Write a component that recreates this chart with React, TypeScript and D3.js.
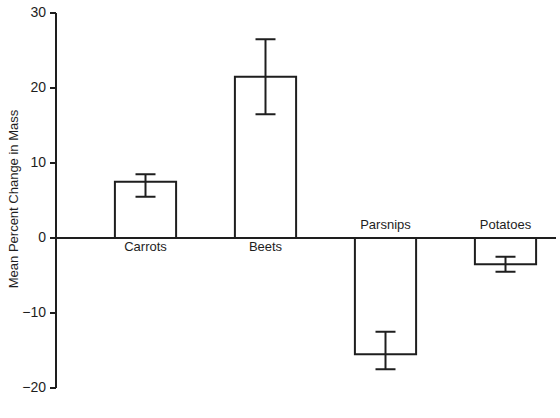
import React from "react";
import * as d3 from "d3";

const categories = ["Carrots", "Beets", "Parsnips", "Potatoes"];
const means = [7.5, 21.5, -15.5, -3.5];
const errLow = [5.5, 16.5, -17.5, -4.5];
const errHigh = [8.5, 26.5, -12.5, -2.5];
const yTicks = [-20, -10, 0, 10, 20, 30];
const yLabel = "Mean Percent Change in Mass";

const W = 560;
const H = 418;
const axisX = 56;
const ink = "#1e1e1e";
const font = "'Liberation Sans', Arial, Helvetica, sans-serif";

export default function App() {
  const y = d3.scaleLinear().domain([-20, 30]).range([388, 13]);
  const x = d3
    .scaleBand<string>()
    .domain(categories)
    .range([85.5, 565.5])
    .paddingInner(0.49)
    .paddingOuter(0.245);
  const bw = x.bandwidth();
  const capW = 20;

  return (
    <svg
      width={W}
      height={H}
      style={{ position: "absolute", left: 0, top: 0, background: "#fff" }}
      fontFamily={font}
    >
      {/* zero line */}
      <line x1={axisX} x2={556} y1={y(0)} y2={y(0)} stroke={ink} strokeWidth={2} />
      {/* bars */}
      {categories.map((c, i) => {
        const x0 = x(c)!;
        const top = Math.min(y(means[i]), y(0));
        const h = Math.abs(y(means[i]) - y(0));
        const cx = x0 + bw / 2;
        const above = means[i] >= 0;
        return (
          <g key={c}>
            <rect x={x0} y={top} width={bw} height={h} fill="none" stroke={ink} strokeWidth={2} />
            <line x1={cx} x2={cx} y1={y(errLow[i])} y2={y(errHigh[i])} stroke={ink} strokeWidth={2} />
            <line x1={cx - capW / 2} x2={cx + capW / 2} y1={y(errLow[i])} y2={y(errLow[i])} stroke={ink} strokeWidth={2} />
            <line x1={cx - capW / 2} x2={cx + capW / 2} y1={y(errHigh[i])} y2={y(errHigh[i])} stroke={ink} strokeWidth={2} />
            <text
              x={cx}
              y={above ? y(0) + 13 : y(0) - 9}
              textAnchor="middle"
              fontSize={13}
              fill={ink}
            >
              {c}
            </text>
          </g>
        );
      })}
      {/* y axis */}
      <line x1={axisX} x2={axisX} y1={y(30)} y2={y(-20)} stroke={ink} strokeWidth={2} />
      {yTicks.map((t) => (
        <g key={t}>
          <line x1={axisX - 6} x2={axisX} y1={y(t)} y2={y(t)} stroke={ink} strokeWidth={2} />
          <text x={axisX - 10} y={y(t) - 1} dy="0.35em" textAnchor="end" fontSize={14} fill={ink}>
            {t < 0 ? "\u2212" + Math.abs(t) : t}
          </text>
        </g>
      ))}
      <text
        transform={`translate(17.5, ${y(5.2)}) rotate(-90)`}
        textAnchor="middle"
        fontSize={13}
        fill={ink}
      >
        {yLabel}
      </text>
    </svg>
  );
}
